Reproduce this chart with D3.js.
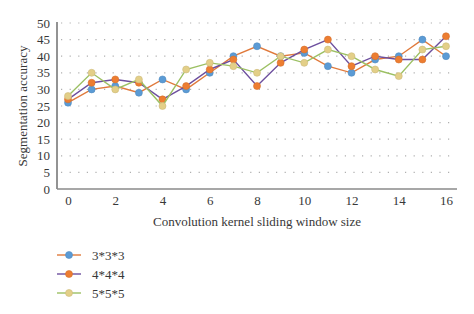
<!DOCTYPE html>
<html>
<head>
<meta charset="utf-8">
<script src="https://cdn.jsdelivr.net/npm/d3@7"></script>
<style>
  body { margin: 0; background: #fff; }
  svg { display: block; }
  svg text { font-family: "Liberation Serif", "DejaVu Serif", serif; }
</style>
</head>
<body>
<svg id="chart" width="474" height="314"></svg>
<script>
// values
var windowSizes = d3.range(0, 17);
var seriesNames = ["3*3*3", "4*4*4", "5*5*5"];
var acc333 = [26, 30, 31, 29, 33, 30, 35, 40, 43, 40, 41, 37, 35, 39, 40, 45, 40];
var acc444 = [27, 32, 33, 32, 27, 31, 36, 39, 31, 38, 42, 45, 37, 40, 39, 39, 46];
var acc555 = [28, 35, 30, 33, 25, 36, 38, 37, 35, 40, 38, 42, 40, 36, 34, 42, 43];
var yTicks = [0, 5, 10, 15, 20, 25, 30, 35, 40, 45, 50];
var xTicks = [0, 2, 4, 6, 8, 10, 12, 14, 16];

// marker colour and line colour differ in the original
var markerColors = ["#5b9bd5", "#ed7d31", "#e3cf88"];
var lineColors = ["#e07a3c", "#6d4f9e", "#9cc063"];

var series = [acc333, acc444, acc555].map(function(v, i){
    return { name: seriesNames[i], values: v };
});

var svg = d3.select("#chart");
var x = d3.scaleLinear().domain([0, 16]).range([68, 446]);
var y = d3.scaleLinear().domain([0, 50]).range([189, 23]);
var textColor = "#383838";

//dotted grid
svg.append("g")
    .selectAll("line")
    .data(yTicks.filter(function(t){return t > 0;}))
    .enter().append("line")
    .attr("x1", 61).attr("x2", 452)
    .attr("y1", function(d){return y(d);})
    .attr("y2", function(d){return y(d);})
    .style("stroke", "#b0b0b0")
    .style("stroke-width", "1.2px")
    .style("stroke-dasharray", "1.2,7.4");

//y axis
var yAxis = svg.append("g")
    .attr("transform", "translate(57,0)")
    .call(d3.axisLeft(y).tickValues(yTicks).tickSize(0).tickPadding(7));
yAxis.select(".domain").remove();
yAxis.selectAll("text")
    .style("font-family", "Liberation Serif")
    .style("font-size", "13px")
    .attr("fill", textColor);
svg.append("line")
    .attr("x1", 57).attr("x2", 57)
    .attr("y1", y(50) - 1).attr("y2", y(0))
    .style("stroke", "#595959")
    .style("stroke-width", "1.3px");

//x axis
var xAxis = svg.append("g")
    .attr("transform", "translate(0," + y(0) + ")")
    .call(d3.axisBottom(x).tickValues(xTicks).tickSize(0).tickPadding(7));
xAxis.select(".domain").remove();
xAxis.selectAll("text")
    .style("font-family", "Liberation Serif")
    .style("font-size", "13px")
    .attr("fill", textColor);
svg.append("line")
    .attr("x1", 57).attr("x2", 457)
    .attr("y1", y(0)).attr("y2", y(0))
    .style("stroke", "#8a8a8a")
    .style("stroke-width", "1.3px");

//titles
svg.append("text")
    .attr("x", 257).attr("y", 226)
    .attr("text-anchor", "middle")
    .style("font-size", "13px")
    .attr("fill", textColor)
    .text("Convolution kernel sliding window size");
svg.append("text")
    .attr("transform", "translate(27,106) rotate(-90)")
    .attr("text-anchor", "middle")
    .style("font-size", "13px")
    .attr("fill", textColor)
    .text("Segmentation accuracy");

//series
var line = d3.line()
    .x(function(d, i){return x(windowSizes[i]);})
    .y(function(d){return y(d);});

series.forEach(function(s, k){
    var g = svg.append("g").attr("class", "serie" + k);
    g.append("path")
        .attr("d", line(s.values))
        .style("fill", "none")
        .style("stroke", lineColors[k])
        .style("stroke-width", "1.4px");
    g.selectAll("circle")
        .data(s.values)
        .enter().append("circle")
        .attr("cx", function(d, i){return x(windowSizes[i]);})
        .attr("cy", function(d){return y(d);})
        .attr("r", 3.5)
        .style("fill", markerColors[k])
        .style("stroke", d3.color(markerColors[k]).darker(0.3))
        .style("stroke-width", "0.6px");
});

//legend
var legend = svg.append("g")
    .selectAll("g")
    .data(series)
    .enter().append("g")
    .attr("transform", function(d, i){return "translate(57," + (255 + i * 19) + ")";});
legend.append("line")
    .attr("x1", 0).attr("x2", 24)
    .style("stroke", function(d, i){return lineColors[i];})
    .style("stroke-width", "1.4px");
legend.append("circle")
    .attr("cx", 12).attr("r", 3.5)
    .style("fill", function(d, i){return markerColors[i];})
    .style("stroke", function(d, i){return d3.color(markerColors[i]).darker(0.3);})
    .style("stroke-width", "0.6px");
legend.append("text")
    .attr("x", 35).attr("dy", "0.35em")
    .style("font-size", "13px")
    .attr("fill", textColor)
    .text(function(d){return d.name;});
</script>
</body>
</html>
